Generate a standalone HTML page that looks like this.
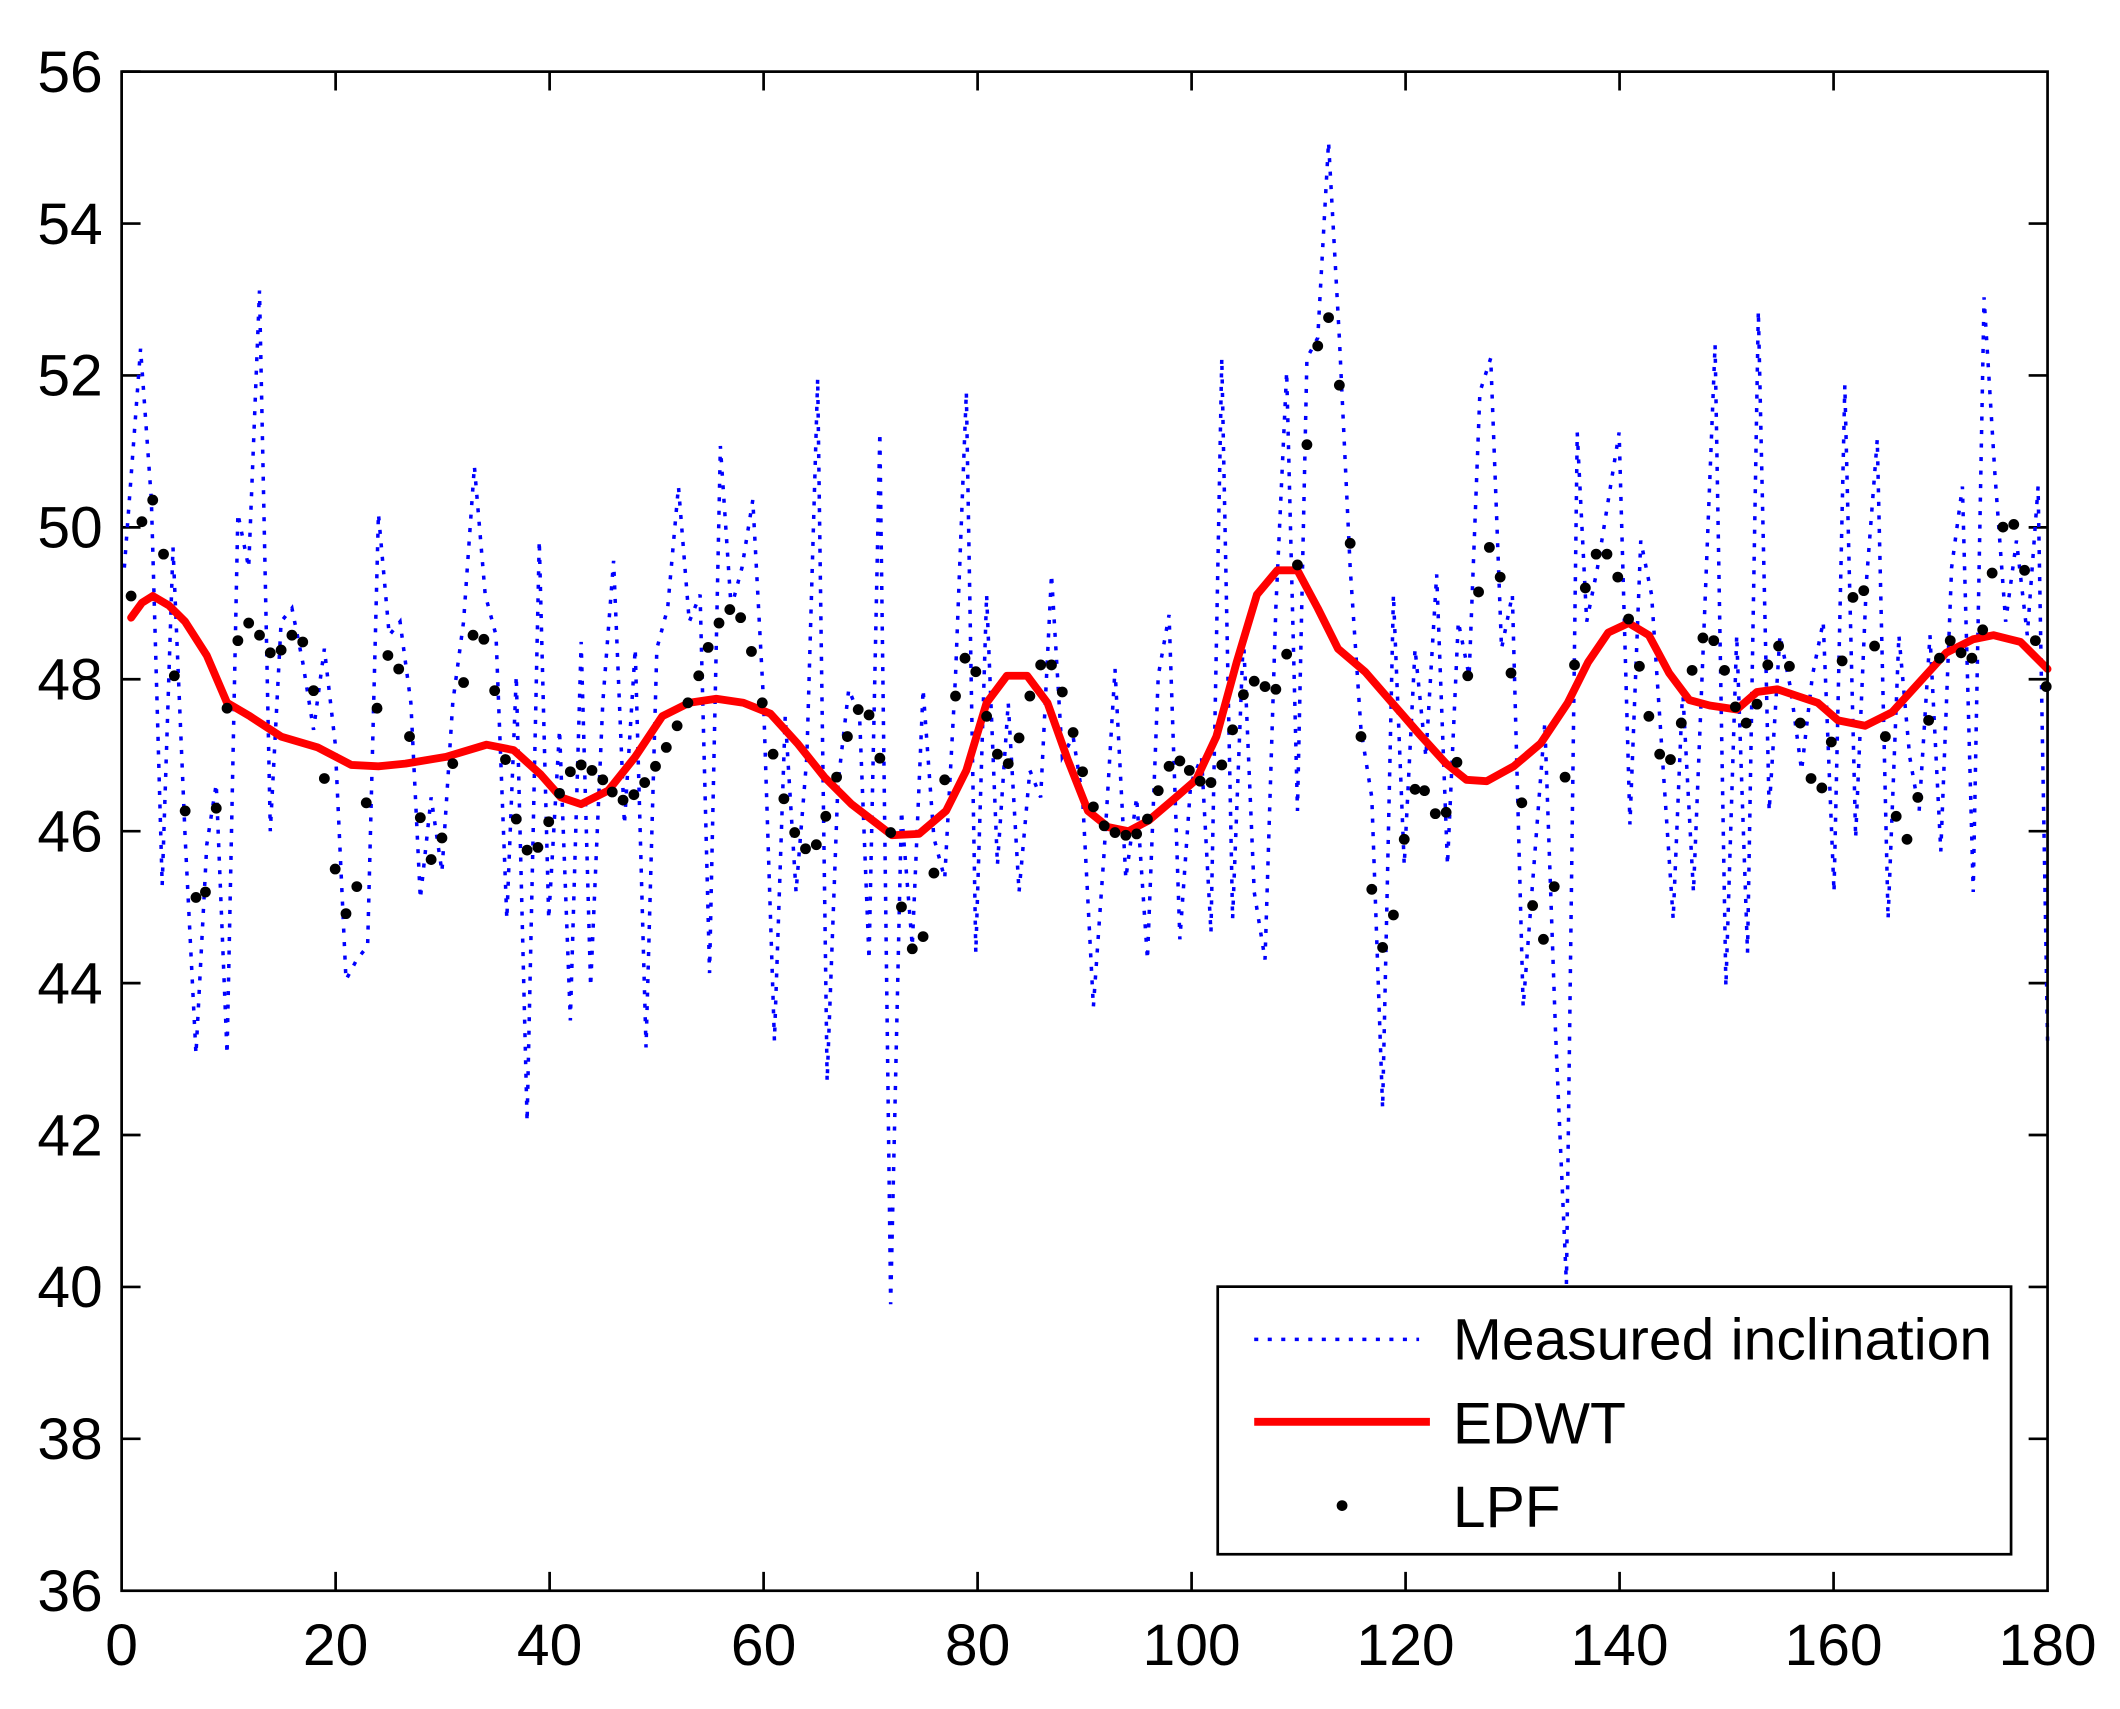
<!DOCTYPE html>
<html><head><meta charset="utf-8"><style>html,body{margin:0;padding:0;background:#fff}svg{display:block}</style></head>
<body>
<svg width="2120" height="1709" viewBox="0 0 1568.6 1264.5" xmlns="http://www.w3.org/2000/svg" font-family="Liberation Sans, sans-serif">
<defs>
<marker id="dot" markerUnits="userSpaceOnUse" markerWidth="10" markerHeight="10" refX="5" refY="5" viewBox="0 0 10 10"><circle cx="5" cy="5" r="4" fill="#000"/></marker>
</defs>
<rect x="0" y="0" width="1568.6" height="1264.5" fill="#fff"/>
<path fill="none" stroke="#000" stroke-width="2" d="M90,53h14M90,165.4h14M90,277.8h14M90,390.2h14M90,502.6h14M90,615h14M90,727.4h14M90,839.8h14M90,952.2h14M90,1064.6h14M1515,165.4h-14M1515,277.8h-14M1515,390.2h-14M1515,502.6h-14M1515,615h-14M1515,727.4h-14M1515,839.8h-14M1515,952.2h-14M1515,1064.6h-14M248.33,1177v-14M406.67,1177v-14M565,1177v-14M723.33,1177v-14M881.67,1177v-14M1040,1177v-14M1198.33,1177v-14M1356.67,1177v-14M248.33,53v14M406.67,53v14M565,53v14M723.33,53v14M881.67,53v14M1040,53v14M1198.33,53v14M1356.67,53v14"/>
<polyline fill="none" stroke="#0000ff" stroke-width="2.6" stroke-dasharray="3 7" points="92,420 104,258 112,370 120,655 128,405 137,620 145,780 153,625 160,580 168,780 176,380 184,420 192,215 200,615 208,460 216,450 224,490 232,540 240,480 248,550 256,725 264,710 272,700 280,380 288,470 296,460 304,520 311,665 319,590 327,645 335,520 343,460 351,345 359,440 367,470 375,680 382,500 390,830 399,400 406,680 414,540 422,755 430,475 437,730 446,520 454,415 462,610 470,480 478,775 486,480 494,450 502,360 510,460 518,440 525,720 533,330 541,450 549,420 557,370 565,520 573,770 581,530 589,660 597,560 605,280 612,800 620,580 628,510 636,530 643,710 651,320 659,965 667,600 675,700 683,510 691,620 699,650 707,500 715,290 722,705 730,440 738,640 746,520 754,660 762,570 770,590 778,425 786,560 794,545 801,590 809,745 817,630 825,495 833,650 841,590 849,710 857,500 865,455 873,695 881,580 889,560 896,690 904,265 912,680 920,470 928,660 936,710 944,450 952,275 960,600 967,265 975,250 983,105 991,250 999,420 1007,540 1015,590 1023,820 1031,440 1039,640 1047,480 1055,560 1063,425 1071,640 1079,460 1087,500 1095,290 1103,265 1111,480 1119,440 1127,745 1135,640 1143,535 1151,765 1159,950 1167,320 1174,460 1182,420 1190,370 1198,320 1206,610 1214,400 1222,440 1230,560 1238,680 1245,510 1253,660 1261,460 1269,255 1277,730 1285,470 1293,705 1301,230 1309,600 1317,470 1325,510 1333,570 1341,500 1349,460 1357,660 1365,285 1373,620 1381,430 1389,325 1397,680 1405,470 1413,560 1420,600 1428,470 1436,630 1444,420 1452,360 1460,660 1468,220 1476,350 1484,460 1492,400 1500,470 1508,360 1515,770"/>
<polyline fill="none" stroke="#ff0000" stroke-width="5.8" stroke-linejoin="round" stroke-linecap="round" points="97,457 105,446 113,441 125,448 137,460 153,485 168,520 185,530 208,545 235,553 260,566 280,567 300,565 330,560 360,551 380,555 400,573 415,590 430,595 450,585 470,560 490,530 510,520 530,517 550,520 570,528 590,550 610,575 630,595 660,618 680,617 700,600 715,570 730,520 745,500 760,500 775,520 790,562 805,600 820,612 835,615 850,607 870,590 885,577 900,545 915,490 930,440 945,422 960,422 975,450 990,480 1010,497 1030,520 1050,543 1070,565 1085,577 1100,578 1120,567 1140,550 1160,520 1175,490 1190,468 1205,461 1220,470 1235,498 1250,518 1265,522 1285,525 1300,512 1315,510 1330,515 1345,520 1360,533 1380,537 1400,527 1420,505 1440,483 1460,473 1475,470 1495,475 1515,495"/>
<polyline fill="none" stroke="none" marker-start="url(#dot)" marker-mid="url(#dot)" marker-end="url(#dot)" points="97,441 105,386 113,370 121,410 129,500 137,600 145,664 152,660 160,598 168,524 176,474 184,461 192,470 200,483 208,481 216,470 224,475 232,511 240,576 248,643 256,676 264,656 271,594 279,524 287,485 295,495 303,545 311,605 319,636 327,620 335,565 343,505 350,470 358,473 366,511 374,562 382,606 390,629 398,627 406,608 414,587 422,571 430,566 438,570 446,577 453,586 461,592 469,588 477,579 485,567 493,553 501,537 509,520 517,500 524,479 532,461 540,451 548,457 556,482 564,520 572,558 580,591 588,616 596,628 604,625 611,604 619,575 627,545 635,525 643,529 651,561 659,616 667,671 675,702 683,693 691,646 699,577 707,515 714,487 722,497 730,530 738,558 746,565 754,546 762,515 770,492 778,492 786,512 794,542 801,571 809,597 817,611 825,616 833,618 841,617 849,606 857,585 865,567 873,563 880,570 888,578 896,579 904,566 912,540 920,514 928,504 936,508 944,510 952,484 960,418 967,329 975,256 983,235 991,285 999,402 1007,545 1015,658 1023,701 1031,677 1039,621 1047,584 1054,585 1062,602 1070,601 1078,564 1086,500 1094,438 1102,405 1110,427 1118,498 1126,594 1134,670 1142,695 1150,656 1158,575 1165,492 1173,435 1181,410 1189,410 1197,427 1205,458 1213,493 1220,530 1228,558 1236,562 1244,535 1252,496 1260,472 1268,474 1276,496 1284,523 1292,535 1300,521 1308,492 1316,478 1324,493 1332,535 1340,576 1348,583 1355,549 1363,489 1371,442 1379,437 1387,478 1395,545 1403,604 1411,621 1419,590 1427,533 1435,487 1443,474 1451,483 1459,487 1467,466 1474,424 1482,390 1490,388 1498,422 1506,474 1514,508"/>
<rect x="90" y="53" width="1425" height="1124" fill="none" stroke="#000" stroke-width="2"/>
<g font-size="43.5" fill="#000" text-anchor="end">
<text x="76" y="68">56</text><text x="76" y="180.4">54</text><text x="76" y="292.8">52</text><text x="76" y="405.2">50</text><text x="76" y="517.6">48</text><text x="76" y="630">46</text><text x="76" y="742.4">44</text><text x="76" y="854.8">42</text><text x="76" y="967.2">40</text><text x="76" y="1079.6">38</text><text x="76" y="1192">36</text>
</g>
<g font-size="43.5" fill="#000" text-anchor="middle">
<text x="90" y="1232">0</text><text x="248.33" y="1232">20</text><text x="406.67" y="1232">40</text><text x="565" y="1232">60</text><text x="723.33" y="1232">80</text><text x="881.67" y="1232">100</text><text x="1040" y="1232">120</text><text x="1198.33" y="1232">140</text><text x="1356.67" y="1232">160</text><text x="1515" y="1232">180</text>
</g>
<rect x="901" y="952" width="587" height="198" fill="#fff" stroke="#000" stroke-width="2"/>
<line x1="928" y1="991" x2="1050" y2="991" stroke="#0000ff" stroke-width="2.6" stroke-dasharray="3 7"/>
<line x1="928" y1="1052" x2="1058" y2="1052" stroke="#ff0000" stroke-width="5.8"/>
<circle cx="993" cy="1114" r="4" fill="#000"/>
<g font-size="43.5" fill="#000">
<text x="1075" y="1006">Measured inclination</text>
<text x="1075" y="1068">EDWT</text>
<text x="1075" y="1130">LPF</text>
</g>
</svg>
</body></html>
